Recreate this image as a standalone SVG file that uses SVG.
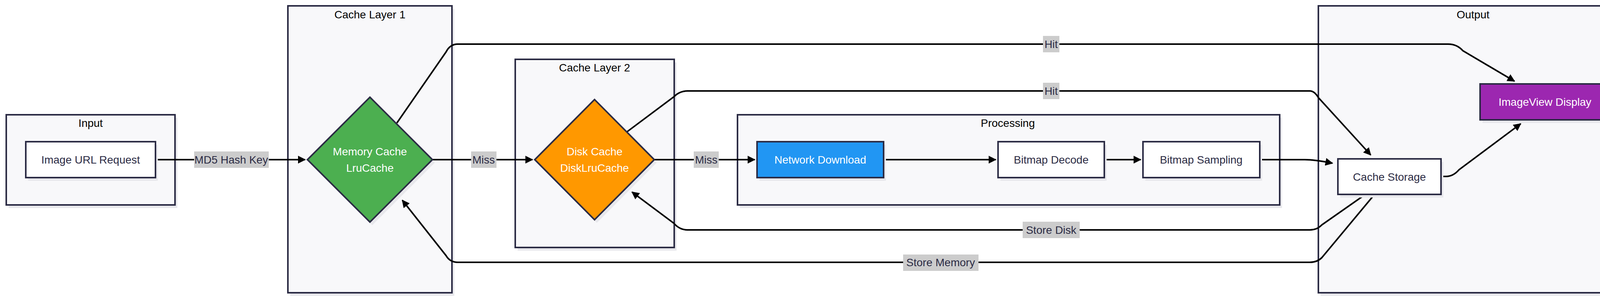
<svg xmlns="http://www.w3.org/2000/svg" width="4180" height="766" viewBox="0 0 4180 766">
<style>
text{font-family:"Liberation Sans",Arial,sans-serif;font-size:28px;fill:#2b2b44;text-anchor:middle;dominant-baseline:central}
.cl{fill:#f8f8fa;stroke:#2b2b44;stroke-width:4}
.sh{fill:#e8e8ec}
.nd{stroke:#2b2b44;stroke-width:4}
.w{fill:#fff}
.t{fill:#000}
.wt{fill:#fff}
.e{fill:none;stroke:#000;stroke-width:4}
.lb{fill:#cccccc}
</style>
<defs>
<marker id="a" viewBox="0 0 10 10" refX="9" refY="5" markerWidth="5" markerHeight="5" orient="auto" markerUnits="strokeWidth"><path d="M0,0L10,5L0,10z" fill="#000"/></marker>
</defs>
<g id="input"><rect class="sh" x="22" y="302" width="432" height="231"/><rect class="cl" x="16" y="294" width="432" height="231"/><text class="t" x="232" y="315">Input</text></g>
<g id="layer1"><rect class="sh" x="743" y="23" width="420" height="735"/><rect class="cl" x="737" y="15" width="420" height="735"/><text class="t" x="947" y="37">Cache Layer 1</text></g>
<g id="layer2"><rect class="sh" x="1325" y="160" width="407" height="482"/><rect class="cl" x="1319" y="152" width="407" height="482"/><text class="t" x="1522" y="173">Cache Layer 2</text></g>
<g id="processing"><rect class="sh" x="1894" y="302" width="1388" height="231"/><rect class="cl" x="1888" y="294" width="1388" height="231"/><text class="t" x="2580" y="315">Processing</text></g>
<g id="output"><rect class="sh" x="3381" y="23" width="795" height="735"/><rect class="cl" x="3375" y="15" width="795" height="735"/><text class="t" x="3771" y="37">Output</text></g>

<g id="connectors">
<path class="e" d="M398,409H781" marker-end="url(#a)"/>
<path class="e" d="M1107,409H1363" marker-end="url(#a)"/>
<path class="e" d="M1675,409H1932" marker-end="url(#a)"/>
<path class="e" d="M2262,409H2549" marker-end="url(#a)"/>
<path class="e" d="M2827,409H2920" marker-end="url(#a)"/>
<path class="e" d="M3225,409H3340Q3365,409 3411,418" marker-end="url(#a)"/>
<path class="e" d="M1016,315L1142,133Q1152,113 1172,113H3707Q3730,113 3745,130L3877,208" marker-end="url(#a)"/>
<path class="e" d="M1606,337L1725,248Q1740,233 1760,233H3353Q3365,233 3375,250L3509,397" marker-end="url(#a)"/>
<path class="e" d="M3689,452H3702Q3720,452 3735,435L3893,317" marker-end="url(#a)"/>
<path class="e" d="M3494,499L3384,576Q3372,589 3353,589H1760Q1740,589 1725,572L1618,492" marker-end="url(#a)"/>
<path class="e" d="M3518,499L3384,660Q3372,672 3353,672H1172Q1152,672 1142,655L1030,513" marker-end="url(#a)"/>
<rect class="lb" x="497" y="388" width="191" height="42"/><text x="592" y="409">MD5 Hash Key</text>
<rect class="lb" x="1206" y="388" width="65" height="42"/><text x="1238" y="409">Miss</text>
<rect class="lb" x="1776" y="388" width="64" height="42"/><text x="1808" y="409">Miss</text>
<rect class="lb" x="2670" y="92" width="42" height="42"/><text x="2691" y="113">Hit</text>
<rect class="lb" x="2670" y="212" width="42" height="42"/><text x="2691" y="233">Hit</text>
<rect class="lb" x="2618" y="568" width="146" height="42"/><text x="2691" y="589">Store Disk</text>
<rect class="lb" x="2312" y="652" width="193" height="42"/><text x="2408" y="672">Store Memory</text>
</g>

<g id="imageUrl"><rect class="sh" x="72" y="371" width="332" height="92"/><rect class="nd w" x="66" y="363" width="332" height="92"/><text x="232" y="409">Image URL Request</text></g>
<g id="memoryCache"><path class="sh" d="M953,257L1113,417L953,577L793,417z" transform="translate(0,0)"/><path class="nd" fill="#4caf50" d="M947,249L1107,409L947,569L787,409z"/><text class="wt" x="947" y="388">Memory Cache</text><text class="wt" x="947" y="430">LruCache</text></g>
<g id="diskCache"><path class="sh" d="M1528,263L1681,417L1528,571L1375,417z"/><path class="nd" fill="#ff9800" d="M1522,255L1675,409L1522,563L1369,409z"/><text class="wt" x="1522" y="388">Disk Cache</text><text class="wt" x="1522" y="430">DiskLruCache</text></g>
<g id="network"><rect class="sh" x="1944" y="371" width="324" height="92"/><rect class="nd" fill="#2196f3" x="1938" y="363" width="324" height="92"/><text class="wt" x="2100" y="409">Network Download</text></g>
<g id="decode"><rect class="sh" x="2561" y="371" width="272" height="92"/><rect class="nd w" x="2555" y="363" width="272" height="92"/><text x="2691" y="409">Bitmap Decode</text></g>
<g id="sampling"><rect class="sh" x="2932" y="371" width="299" height="92"/><rect class="nd w" x="2926" y="363" width="299" height="92"/><text x="3075" y="409">Bitmap Sampling</text></g>
<g id="cacheStorage"><rect class="sh" x="3431" y="415" width="264" height="91"/><rect class="nd w" x="3425" y="407" width="264" height="91"/><text x="3557" y="453">Cache Storage</text></g>
<g id="imageView"><rect class="sh" x="3795" y="223" width="332" height="92"/><rect class="nd" fill="#9c27b0" x="3789" y="215" width="332" height="92"/><text class="wt" x="3955" y="261">ImageView Display</text></g>
</svg>
